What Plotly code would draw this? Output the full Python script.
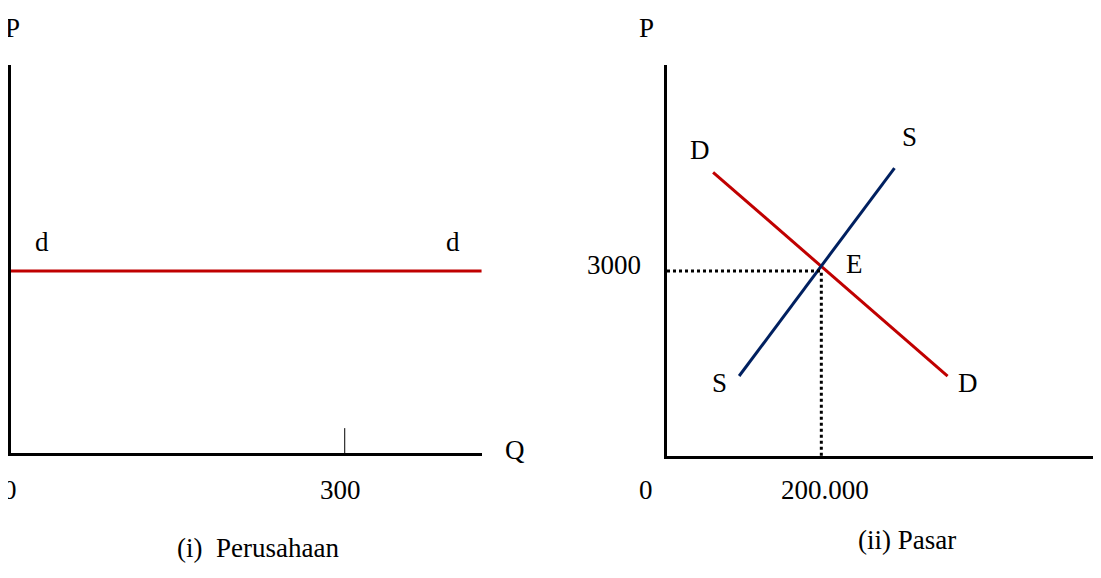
import plotly.graph_objects as go

W, H = 1101, 578
DX, DY = -6, -8
# Left panel (firm)
firm_q = [0, 423]
firm_p = [3000, 3000]
firm_tick_q = 300
# Right panel (market)
demand_q = [59740, 363636]
demand_p = [4600, 1297]
supply_q = [93506, 294805]
supply_p = [1297, 4670]
eq_q, eq_p = 200000, 3000

red, blue = "#c00000", "#002060"
fig = go.Figure()
fig.add_trace(go.Scatter(x=firm_q, y=firm_p, mode="lines", line=dict(color=red, width=3), xaxis="x", yaxis="y"))
fig.add_trace(go.Scatter(x=[firm_tick_q, firm_tick_q], y=[0, 410], mode="lines", line=dict(color="black", width=1), xaxis="x", yaxis="y"))
fig.add_trace(go.Scatter(x=demand_q, y=demand_p, mode="lines", line=dict(color=red, width=3), xaxis="x2", yaxis="y2"))
fig.add_trace(go.Scatter(x=supply_q, y=supply_p, mode="lines", line=dict(color=blue, width=3), xaxis="x2", yaxis="y2"))
fig.add_trace(go.Scatter(x=[0, eq_q, eq_q], y=[eq_p, eq_p, 0], mode="lines", line=dict(color="black", width=3, dash="dot"), xaxis="x2", yaxis="y2"))

def px(x): return (x + DX) / W
def py(y): return 1 - (y + DY) / H

ax = dict(showgrid=False, zeroline=False, showticklabels=False, ticks="", showline=True, linecolor="black", linewidth=3)
fig.update_layout(
    width=W, height=H, margin=dict(l=0, r=0, t=0, b=0), showlegend=False,
    plot_bgcolor="white", paper_bgcolor="white",
    xaxis=dict(ax, domain=[px(9), px(480)], range=[0, 423.4], anchor="y"),
    yaxis=dict(ax, domain=[py(453), py(65)], range=[0, 6396], anchor="x"),
    xaxis2=dict(ax, domain=[px(665), 1], range=[0, 564935 * (1101 - 665) / (1101 - 665 + DX)], anchor="y2"),
    yaxis2=dict(ax, domain=[py(456), py(65)], range=[0, 6341], anchor="x2"),
)
labels = [("P", 10, 28), ("d", 40, 242), ("d", 451, 242), ("Q", 513, 450), ("0", 8, 490), ("300", 338, 490),
          ("(i)  Perusahaan", 256, 548), ("P", 644, 28), ("D", 698, 150), ("S", 907, 137), ("3000", 612, 265),
          ("E", 852, 264), ("S", 717, 383), ("D", 966, 383), ("0", 644, 490), ("200.000", 823, 490),
          ("(ii) Pasar", 905, 540)]
for t, x, y in labels:
    fig.add_annotation(text=t, x=px(x), y=py(y), xref="paper", yref="paper", showarrow=False,
                       xanchor="center", yanchor="middle",
                       font=dict(family="Liberation Serif", size=27, color="black"))
fig.write_html("out.html")
